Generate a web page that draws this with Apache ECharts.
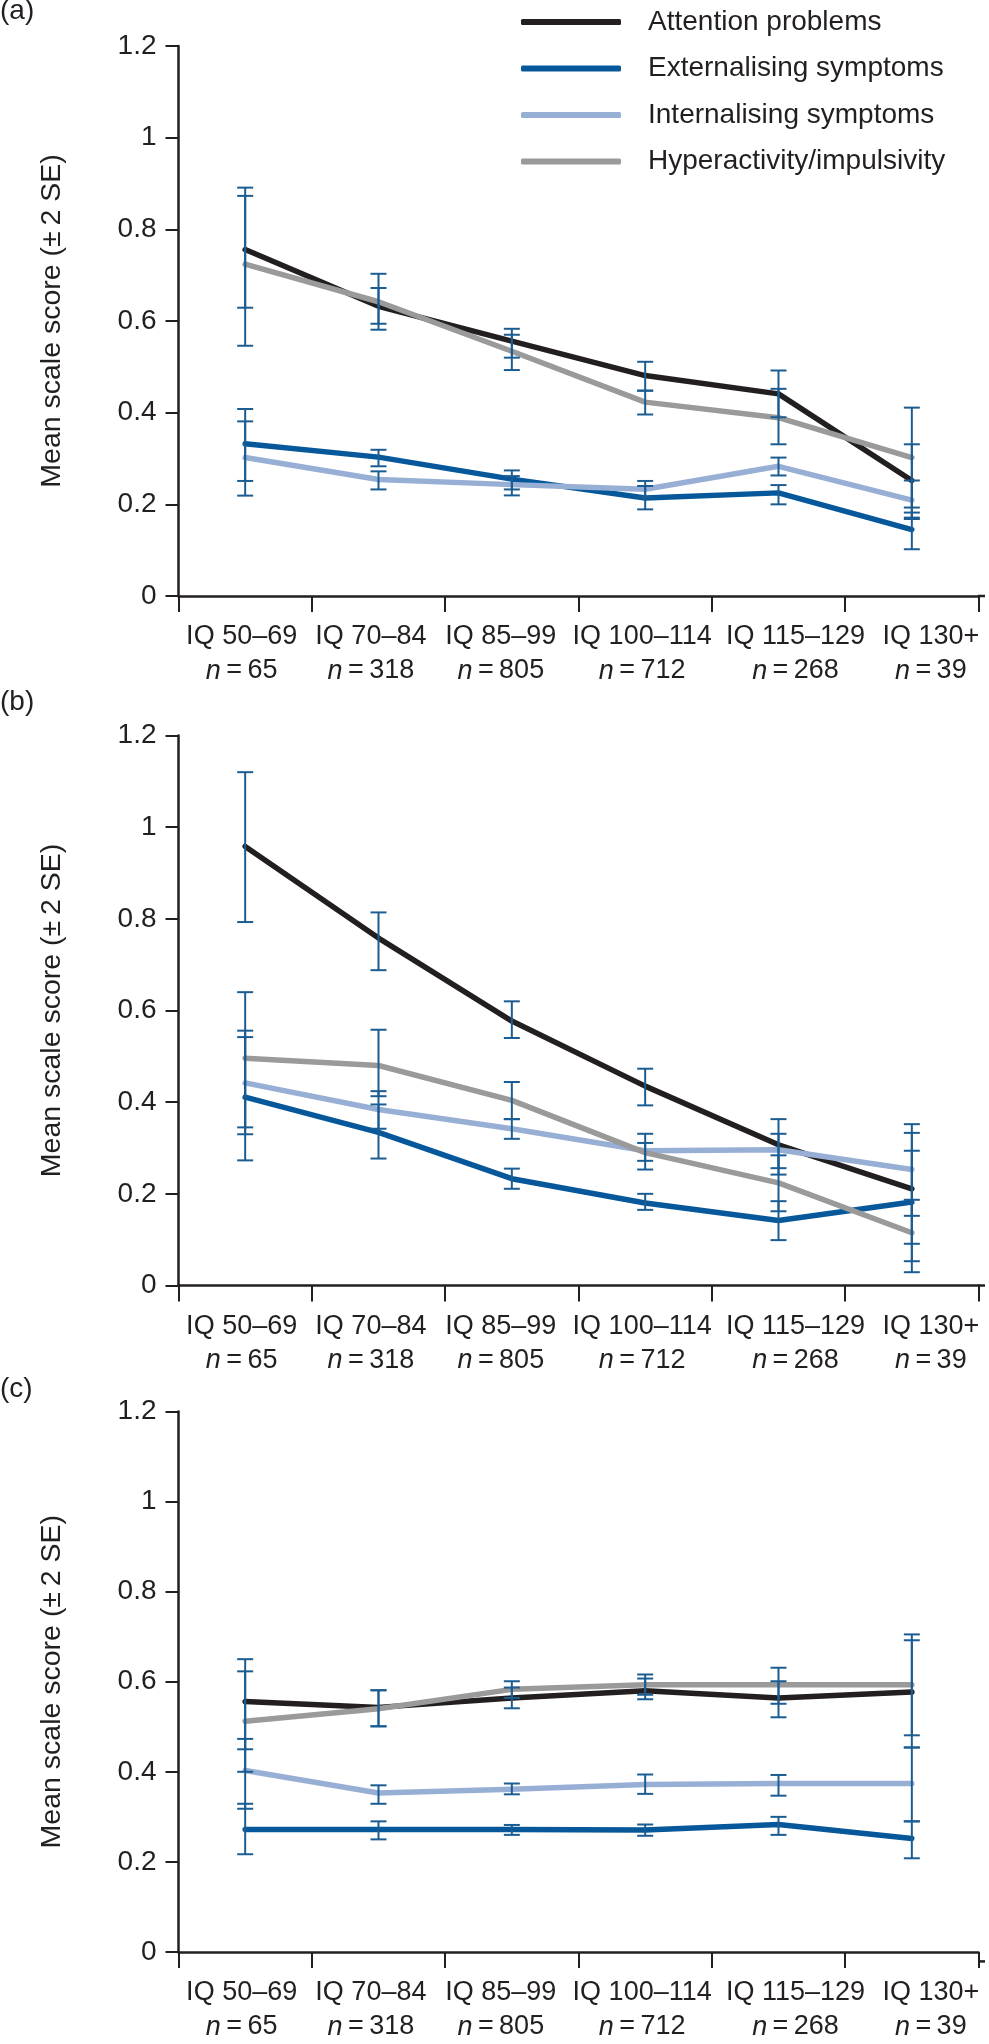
<!DOCTYPE html>
<html>
<head>
<meta charset="utf-8">
<script src="https://cdn.jsdelivr.net/npm/echarts@6/dist/echarts.min.js"></script>
<style>
  html, body { margin: 0; padding: 0; background: #fff; }
  #chart { width: 989px; height: 2044px; }
</style>
</head>
<body>
<div id="chart"></div>
<script>
// categories and group sizes
var categories = ["IQ 50–69", "IQ 70–84", "IQ 85–99", "IQ 100–114", "IQ 115–129", "IQ 130+"];
var groupN = [65, 318, 805, 712, 268, 39];
var seriesNames = ["Attention problems", "Externalising symptoms", "Internalising symptoms", "Hyperactivity/impulsivity"];
var yTicks = [0, 0.2, 0.4, 0.6, 0.8, 1, 1.2];

// (a)
var attA = [0.756, 0.632, 0.556, 0.481, 0.441, 0.252];
var attALo = [0.629, 0.594, 0.52, 0.448, 0.39, 0.171];
var attAHi = [0.873, 0.672, 0.583, 0.511, 0.492, 0.331];
var extA = [0.332, 0.303, 0.255, 0.214, 0.225, 0.145];
var extALo = [0.251, 0.283, 0.2325, 0.189, 0.2, 0.102];
var extAHi = [0.408, 0.319, 0.274, 0.24, 0.242, 0.182];
var intA = [0.302, 0.254, 0.243, 0.233, 0.283, 0.209];
var intALo = [0.219, 0.2325, 0.2195, 0.215, 0.263, 0.168];
var intAHi = [0.381, 0.272, 0.2616, 0.251, 0.302, 0.252];
var hypA = [0.724, 0.642, 0.534, 0.423, 0.389, 0.302];
var hypALo = [0.546, 0.581, 0.493, 0.396, 0.331, 0.193];
var hypAHi = [0.891, 0.703, 0.57, 0.448, 0.452, 0.411];

// (b)
var attB = [0.958, 0.758, 0.577, 0.435, 0.307, 0.211];
var attBLo = [0.793, 0.688, 0.54, 0.393, 0.242, 0.091];
var attBHi = [1.12, 0.814, 0.62, 0.473, 0.363, 0.333];
var extB = [0.411, 0.334, 0.233, 0.18, 0.142, 0.182];
var extBLo = [0.273, 0.277, 0.211, 0.165, 0.099, 0.053];
var extBHi = [0.542, 0.395, 0.255, 0.2, 0.184, 0.294];
var intB = [0.442, 0.384, 0.342, 0.294, 0.296, 0.253];
var intBLo = [0.33, 0.342, 0.32, 0.272, 0.256, 0.152];
var intBHi = [0.556, 0.424, 0.363, 0.311, 0.331, 0.352];
var hypB = [0.496, 0.48, 0.404, 0.29, 0.224, 0.115];
var hypBLo = [0.345, 0.413, 0.363, 0.253, 0.162, 0.029];
var hypBHi = [0.64, 0.558, 0.444, 0.331, 0.284, 0.187];

// (c)
var attC = [0.556, 0.543, 0.564, 0.58, 0.564, 0.577];
var attCLo = [0.45, 0.501, 0.541, 0.561, 0.521, 0.454];
var attCHi = [0.65, 0.581, 0.587, 0.607, 0.601, 0.692];
var extC = [0.272, 0.272, 0.272, 0.271, 0.283, 0.252];
var extCLo = [0.217, 0.25, 0.26, 0.258, 0.26, 0.208];
var extCHi = [0.329, 0.29, 0.282, 0.283, 0.3, 0.29];
var intC = [0.403, 0.353, 0.361, 0.372, 0.374, 0.374];
var intCLo = [0.318, 0.329, 0.35, 0.351, 0.347, 0.29];
var intCHi = [0.473, 0.37, 0.374, 0.394, 0.393, 0.454];
var hypC = [0.512, 0.54, 0.583, 0.593, 0.593, 0.593];
var hypCLo = [0.40, 0.501, 0.564, 0.571, 0.551, 0.481];
var hypCHi = [0.623, 0.581, 0.601, 0.616, 0.631, 0.705];

var lineColors = ["#231f20", "#07589a", "#98afd5", "#9a9a9a"];
var errColor = "#1b5d92";
var textColor = "#231f20";
var font = "Liberation Sans, Arial, sans-serif";
// tick labels in the original sit a little off the category centres
var labelShift = [-3.5, -7.6, -11, -3, 17, 19];

var panels = [
  { label: "(a)", top: 46, labelY: 13,
    means: [attA, extA, intA, hypA], lo: [attALo, extALo, intALo, hypALo], hi: [attAHi, extAHi, intAHi, hypAHi] },
  { label: "(b)", top: 735.5, labelY: 704,
    means: [attB, extB, intB, hypB], lo: [attBLo, extBLo, intBLo, hypBLo], hi: [attBHi, extBHi, intBHi, hypBHi] },
  { label: "(c)", top: 1411.4, labelY: 1391,
    means: [attC, extC, intC, hypC], lo: [attCLo, extCLo, intCLo, hypCLo], hi: [attCHi, extCHi, intCHi, hypCHi] }
];

function renderErr(params, api) {
  var x = api.value(0);
  var p1 = api.coord([x, api.value(1)]);
  var p2 = api.coord([x, api.value(2)]);
  var w = 8;
  var st = { stroke: errColor, lineWidth: 2 };
  return {
    type: "group",
    children: [
      { type: "line", shape: { x1: p1[0], y1: p1[1], x2: p2[0], y2: p2[1] }, style: st },
      { type: "line", shape: { x1: p1[0] - w, y1: p1[1], x2: p1[0] + w, y2: p1[1] }, style: st },
      { type: "line", shape: { x1: p2[0] - w, y1: p2[1], x2: p2[0] + w, y2: p2[1] }, style: st }
    ]
  };
}

var catData = categories.map(function (c, i) {
  var d = labelShift[i];
  var pad = d < 0 ? [0, -2 * d, 0, 0] : [0, 0, 0, 2 * d];
  return { value: c, textStyle: { padding: pad } };
});

var chart = echarts.init(document.getElementById("chart"), null, { renderer: "canvas" });

var grids = [], xAxes = [], yAxes = [], series = [], graphics = [];

panels.forEach(function (p, gi) {
  grids.push({ left: 178.5, width: 800, top: p.top, height: 550 });

  xAxes.push({
    gridIndex: gi,
    type: "category",
    data: catData,
    boundaryGap: true,
    axisLine: { lineStyle: { color: textColor, width: 2.5 } },
    axisTick: { show: true, length: 16, lineStyle: { color: textColor, width: 2 } },
    axisLabel: {
      interval: 0,
      margin: 24,
      color: textColor,
      fontFamily: font,
      fontSize: 27,
      lineHeight: 34,
      formatter: function (value, idx) {
        return value + "\n{i|n}\u2009=\u2009" + groupN[idx];
      },
      rich: {
        i: { fontStyle: "italic", fontFamily: font, fontSize: 27, color: textColor, lineHeight: 34 }
      }
    },
    splitLine: { show: false }
  });

  yAxes.push({
    gridIndex: gi,
    type: "value",
    min: yTicks[0],
    max: yTicks[yTicks.length - 1],
    interval: 0.2,
    name: "Mean scale score (\u00b1\u20092 SE)",
    nameLocation: "middle",
    nameRotate: 90,
    nameGap: 112,
    nameTextStyle: { color: textColor, fontFamily: font, fontSize: 28.5 },
    axisLine: { show: true, lineStyle: { color: textColor, width: 2.5 } },
    axisTick: { show: true, length: 13, lineStyle: { color: textColor, width: 2 } },
    axisLabel: { margin: 22, color: textColor, fontFamily: font, fontSize: 28 },
    splitLine: { show: false }
  });

  for (var s = 0; s < 4; s++) {
    series.push({
      name: seriesNames[s],
      type: "line",
      xAxisIndex: gi,
      yAxisIndex: gi,
      data: p.means[s],
      symbol: "none",
      z: 2,
      itemStyle: { color: lineColors[s] },
      lineStyle: { color: lineColors[s], width: 5.5, cap: "round", join: "round" }
    });
  }
  for (var e = 0; e < 4; e++) {
    var errData = p.lo[e].map(function (v, i) { return [i, v, p.hi[e][i]]; });
    series.push({
      type: "custom",
      xAxisIndex: gi,
      yAxisIndex: gi,
      z: 3,
      silent: true,
      renderItem: renderErr,
      encode: { x: 0, y: [1, 2] },
      data: errData
    });
  }

  graphics.push({
    type: "text",
    left: 0,
    top: p.labelY - 16,
    style: { text: p.label, fill: textColor, font: "28px " + font }
  });
  // axis line runs a few px past the last tick in the original
  graphics.push({
    type: "line",
    shape: { x1: 978, y1: p.top + 550, x2: 985, y2: p.top + 550 },
    style: { stroke: textColor, lineWidth: 2.5 }
  });
});

chart.setOption({
  animation: false,
  backgroundColor: "#ffffff",
  grid: grids,
  xAxis: xAxes,
  yAxis: yAxes,
  legend: {
    data: seriesNames,
    orient: "vertical",
    left: 516,
    top: 0,
    icon: "roundRect",
    itemWidth: 100,
    itemHeight: 6,
    itemGap: 12.5,
    textStyle: { color: textColor, fontFamily: font, fontSize: 28, lineHeight: 34, padding: [0, 0, 0, 22] }
  },
  graphic: graphics,
  series: series
});
</script>
</body>
</html>
